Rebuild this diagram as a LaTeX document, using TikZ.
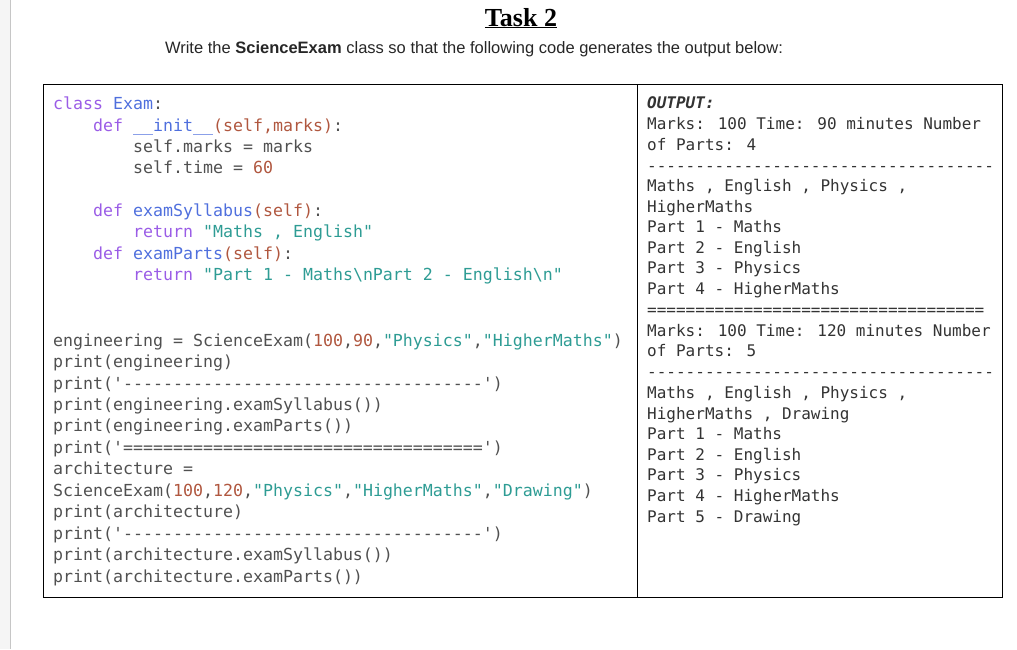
\documentclass[tikz,border=0pt]{standalone}
\usepackage{fontspec}
\setmainfont{Liberation Sans}
\newfontfamily\serifx{Liberation Serif}
\newfontfamily\cf{DejaVu Sans Mono}
\definecolor{kw}{HTML}{9A5CE6}
\definecolor{fn}{HTML}{4F6FDD}
\definecolor{br}{HTML}{B0573F}
\definecolor{st}{HTML}{2E9C94}
\definecolor{tx}{HTML}{505050}
\newcommand{\K}[1]{\textcolor{kw}{#1}}
\newcommand{\F}[1]{\textcolor{fn}{#1}}
\newcommand{\B}[1]{\textcolor{br}{#1}}
\newcommand{\Sx}[1]{\textcolor{st}{#1}}
\begin{document}
\begin{tikzpicture}[x=1pt,y=-1pt,
  lc/.style={anchor=base west,inner sep=0pt,font=\cf\fontsize{16.6}{18}\selectfont,text=tx},
  rc/.style={anchor=base west,inner sep=0pt,font=\cf\fontsize{16}{18}\selectfont,text=black!80}]
\useasboundingbox (0,0) rectangle (1017,649);
\fill[gray!8] (0,0) rectangle (10,649);
\draw[gray!45,line width=1pt] (10,0) -- (10,649);
\node[anchor=base,inner sep=0pt,font=\serifx\bfseries\fontsize{26}{28}\selectfont] (title) at (521,26) {\underline{Task 2}};
\node[anchor=base,inner sep=0pt,font=\fontsize{16.5}{18}\selectfont,text=black!85] (sub) at (474,53) {Write the \textbf{ScienceExam} class so that the following code generates the output below:};
\draw[line width=0.8pt] (43,84) rectangle (1002,597);
\draw[line width=0.8pt] (637,84) -- (637,597);
% left code
\node[lc] (l1) at (53,109) {\K{class} \F{Exam}:};
\node[lc] (l2) at (53,131) {\phantom{xxxx}\K{def} \F{\_\_init\_\_}\B{(self,marks)}:};
\node[lc] (l3) at (53,152) {\phantom{xxxxxxxx}self.marks = marks};
\node[lc] (l4) at (53,173) {\phantom{xxxxxxxx}self.time = \B{60}};
\node[lc] (l5) at (53,216) {\phantom{xxxx}\K{def} \F{examSyllabus}\B{(self)}:};
\node[lc] (l6) at (53,237) {\phantom{xxxxxxxx}\K{return} \Sx{"Maths , English"}};
\node[lc] (l7) at (53,259) {\phantom{xxxx}\K{def} \F{examParts}\B{(self)}:};
\node[lc] (l8) at (53,280) {\phantom{xxxxxxxx}\K{return} \Sx{"Part 1 - Maths\textbackslash nPart 2 - English\textbackslash n"}};
\node[lc] (m1) at (53,346) {engineering = ScienceExam(\B{100},\B{90},\Sx{"Physics"},\Sx{"HigherMaths"})};
\node[lc] (m2) at (53,367) {print(engineering)};
\node[lc] (m3) at (53,389) {print('-{}-{}-{}-{}-{}-{}-{}-{}-{}-{}-{}-{}-{}-{}-{}-{}-{}-{}-{}-{}-{}-{}-{}-{}-{}-{}-{}-{}-{}-{}-{}-{}-{}-{}-{}-')};
\node[lc] (m4) at (53,410) {print(engineering.examSyllabus())};
\node[lc] (m5) at (53,431) {print(engineering.examParts())};
\node[lc] (m6) at (53,453) {print('====================================')};
\node[lc] (m7) at (53,474) {architecture =};
\node[lc] (m8) at (53,496) {ScienceExam(\B{100},\B{120},\Sx{"Physics"},\Sx{"HigherMaths"},\Sx{"Drawing"})};
\node[lc] (m9) at (53,517) {print(architecture)};
\node[lc] (m10) at (53,539) {print('-{}-{}-{}-{}-{}-{}-{}-{}-{}-{}-{}-{}-{}-{}-{}-{}-{}-{}-{}-{}-{}-{}-{}-{}-{}-{}-{}-{}-{}-{}-{}-{}-{}-{}-{}-')};
\node[lc] (m11) at (53,560) {print(architecture.examSyllabus())};
\node[lc] (m12) at (53,582) {print(architecture.examParts())};
% right output
\node[rc] (r1) at (647,108) {\bfseries\itshape OUTPUT:};
\node[rc] (r2) at (647,129) {Marks: 100 Time: 90 minutes Number};
\node[rc] (r3) at (647,150) {of Parts: 4};
\node[rc] (r4) at (647,171) {-{}-{}-{}-{}-{}-{}-{}-{}-{}-{}-{}-{}-{}-{}-{}-{}-{}-{}-{}-{}-{}-{}-{}-{}-{}-{}-{}-{}-{}-{}-{}-{}-{}-{}-{}-};
\node[rc] (r5) at (647,191) {Maths , English , Physics ,};
\node[rc] (r6) at (647,212) {HigherMaths};
\node[rc] (r7) at (647,232) {Part 1 - Maths};
\node[rc] (r8) at (647,253) {Part 2 - English};
\node[rc] (r9) at (647,273) {Part 3 - Physics};
\node[rc] (r10) at (647,294) {Part 4 - HigherMaths};
\node[rc] (r11) at (647,315) {===================================};
\node[rc] (r12) at (647,336) {Marks: 100 Time: 120 minutes Number};
\node[rc] (r13) at (647,356) {of Parts: 5};
\node[rc] (r14) at (647,377) {-{}-{}-{}-{}-{}-{}-{}-{}-{}-{}-{}-{}-{}-{}-{}-{}-{}-{}-{}-{}-{}-{}-{}-{}-{}-{}-{}-{}-{}-{}-{}-{}-{}-{}-{}-};
\node[rc] (r15) at (647,398) {Maths , English , Physics ,};
\node[rc] (r16) at (647,419) {HigherMaths , Drawing};
\node[rc] (r17) at (647,439) {Part 1 - Maths};
\node[rc] (r18) at (647,460) {Part 2 - English};
\node[rc] (r19) at (647,480) {Part 3 - Physics};
\node[rc] (r20) at (647,501) {Part 4 - HigherMaths};
\node[rc] (r21) at (647,522) {Part 5 - Drawing};
\end{tikzpicture}
\end{document}
